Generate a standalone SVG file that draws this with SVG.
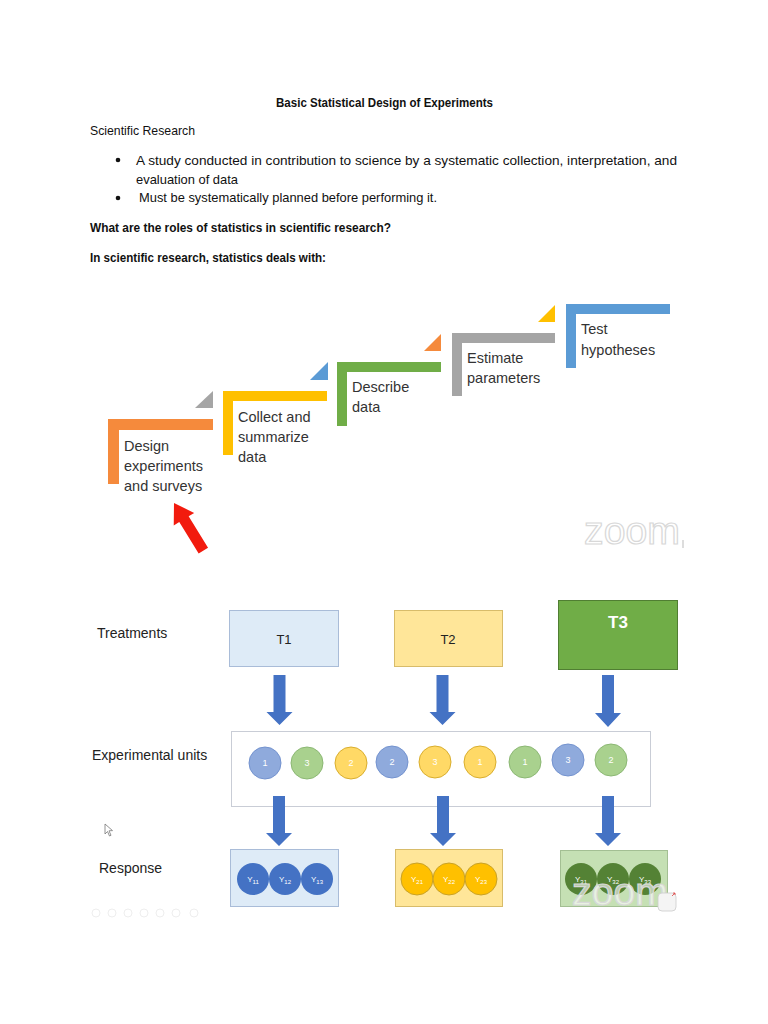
<svg xmlns="http://www.w3.org/2000/svg" width="768" height="1024" viewBox="0 0 768 1024">
<style>
.doc{font-family:"Liberation Sans",Arial,sans-serif;font-size:13.5px;fill:#111}
.b{font-weight:bold}
.lbl{font-family:"Liberation Sans",Arial,sans-serif;font-size:14.5px;fill:#333}
.tl{font-family:"Liberation Sans",Arial,sans-serif;font-size:14px;fill:#222}
.u{font-family:"Liberation Sans",Arial,sans-serif;font-size:9px;fill:#fff;text-anchor:middle}
.y{font-family:"Liberation Sans",Arial,sans-serif;font-size:8px;fill:#fff;text-anchor:middle}
.arr{fill:#4472C4}
.ub{fill:#8FAADC;stroke:#7493CF;stroke-width:1}
.ug{fill:#A9D18E;stroke:#8CB874;stroke-width:1}
.uy{fill:#FFD966;stroke:#D9AE2E;stroke-width:1}
.wm{font-family:"Liberation Sans",Arial,sans-serif;font-size:38px;fill:#ffffff;fill-opacity:0.6;stroke:#d8d8d8;stroke-width:1.2}
</style>
<rect width="768" height="1024" fill="#ffffff"/>

<g id="document-text">
<text class="doc b" x="276" y="107" textLength="217" lengthAdjust="spacingAndGlyphs">Basic Statistical Design of Experiments</text>
<text class="doc" x="90" y="135" textLength="105" lengthAdjust="spacingAndGlyphs">Scientific Research</text>
<circle cx="118" cy="160" r="2.3" fill="#111"/>
<text class="doc" x="136" y="165" textLength="541" lengthAdjust="spacingAndGlyphs">A study conducted in contribution to science by a systematic collection, interpretation, and</text>
<text class="doc" x="136" y="184" textLength="102" lengthAdjust="spacingAndGlyphs">evaluation of data</text>
<circle cx="118" cy="198" r="2.3" fill="#111"/>
<text class="doc" x="139" y="202" textLength="298" lengthAdjust="spacingAndGlyphs">Must be systematically planned before performing it.</text>
<text class="doc b" x="90" y="232" textLength="301" lengthAdjust="spacingAndGlyphs">What are the roles of statistics in scientific research?</text>
<text class="doc b" x="90" y="262" textLength="236" lengthAdjust="spacingAndGlyphs">In scientific research, statistics deals with:</text>
</g>

<g id="step-design">
<path d="M108 419H213V430H119V484H108Z" fill="#F58A3C"/>
<polygon points="195,408 213,408 213,391" fill="#A5A5A5"/>
<text class="lbl" x="124" y="451">Design</text>
<text class="lbl" x="124" y="471">experiments</text>
<text class="lbl" x="124" y="491">and surveys</text>
</g>
<g id="step-collect">
<path d="M223 391H327V401H233V455H223Z" fill="#FFC000"/>
<polygon points="310,380 328,380 328,362" fill="#5B9BD5"/>
<text class="lbl" x="238" y="422">Collect and</text>
<text class="lbl" x="238" y="442">summarize</text>
<text class="lbl" x="238" y="462">data</text>
</g>
<g id="step-describe">
<path d="M337 362H441V372H347V426H337Z" fill="#70AD47"/>
<polygon points="424,351 441,351 441,334" fill="#F58A3C"/>
<text class="lbl" x="352" y="392">Describe</text>
<text class="lbl" x="352" y="412">data</text>
</g>
<g id="step-estimate">
<path d="M452 333H555V343H462V396H452Z" fill="#A5A5A5"/>
<polygon points="538,322 555,322 555,305" fill="#FFC000"/>
<text class="lbl" x="467" y="363">Estimate</text>
<text class="lbl" x="467" y="383">parameters</text>
</g>
<g id="step-test">
<path d="M566 304H670V314H576V368H566Z" fill="#5B9BD5"/>
<text class="lbl" x="581" y="334">Test</text>
<text class="lbl" x="581" y="355">hypotheses</text>
</g>
<g id="red-arrow">
<polygon transform="translate(174,503) rotate(-31.6)" points="0,0 12,19 5.5,19 5.5,56 -5.5,56 -5.5,19 -12,19" fill="#F21B0E"/>
</g>
<g id="zoom-watermark-1">
<text class="wm" x="584" y="544" textLength="96" lengthAdjust="spacingAndGlyphs">zoom</text>
<line x1="683" y1="540" x2="683" y2="548" stroke="#bbbbbb" stroke-width="1"/>
</g>

<g id="row-labels">
<text class="tl" x="97" y="638">Treatments</text>
<text class="tl" x="92" y="760">Experimental units</text>
<text class="tl" x="99" y="873">Response</text>
</g>

<g id="treatment-T1">
<rect x="229.5" y="610.5" width="109" height="56" fill="#DEEBF7" stroke="#A9BCD8"/>
<text x="284" y="644" font-family="Liberation Sans, Arial, sans-serif" font-size="13" fill="#222" text-anchor="middle">T1</text>
</g>
<g id="treatment-T2">
<rect x="394.5" y="610.5" width="108" height="56" fill="#FFE699" stroke="#D8BC6A"/>
<text x="448" y="644" font-family="Liberation Sans, Arial, sans-serif" font-size="13" fill="#222" text-anchor="middle">T2</text>
</g>
<g id="treatment-T3">
<rect x="558.5" y="600.5" width="119" height="69" fill="#70AD47" stroke="#507E32"/>
<text x="618" y="628" font-family="Liberation Sans, Arial, sans-serif" font-size="17" font-weight="bold" fill="#ffffff" text-anchor="middle">T3</text>
</g>

<g id="experimental-units">
<rect x="231.5" y="731.5" width="419" height="75" fill="#ffffff" stroke="#C9CDD6"/>
<circle class="ub" cx="265" cy="763" r="16"/><text class="u" x="265" y="766">1</text>
<circle class="ug" cx="307" cy="763" r="16"/><text class="u" x="307" y="766">3</text>
<circle class="uy" cx="351" cy="763" r="16"/><text class="u" x="351" y="766">2</text>
<circle class="ub" cx="392" cy="762" r="16"/><text class="u" x="392" y="765">2</text>
<circle class="uy" cx="435" cy="762" r="16"/><text class="u" x="435" y="765">3</text>
<circle class="uy" cx="480" cy="762" r="16"/><text class="u" x="480" y="765">1</text>
<circle class="ug" cx="525" cy="762" r="16"/><text class="u" x="525" y="765">1</text>
<circle class="ub" cx="568" cy="760" r="16"/><text class="u" x="568" y="763">3</text>
<circle class="ug" cx="611" cy="760" r="16"/><text class="u" x="611" y="763">2</text>
</g>

<g id="response-R1">
<rect x="230.5" y="849.5" width="108" height="57" fill="#DEEBF7" stroke="#A9BCD8"/>
<circle cx="253" cy="879" r="16" fill="#4472C4"/>
<circle cx="285" cy="879" r="16" fill="#4472C4"/>
<circle cx="317" cy="879" r="16" fill="#4472C4"/>
<text class="y" x="253" y="882">Y<tspan font-size="6" dy="1.5">11</tspan></text>
<text class="y" x="285" y="882">Y<tspan font-size="6" dy="1.5">12</tspan></text>
<text class="y" x="317" y="882">Y<tspan font-size="6" dy="1.5">13</tspan></text>
</g>
<g id="response-R2">
<rect x="395.5" y="849.5" width="107" height="57" fill="#FFE699" stroke="#D8BC6A"/>
<circle cx="417" cy="879" r="16" fill="#FFC000" stroke="#C9A227"/>
<circle cx="449" cy="879" r="16" fill="#FFC000" stroke="#C9A227"/>
<circle cx="481" cy="879" r="16" fill="#FFC000" stroke="#C9A227"/>
<text class="y" x="417" y="882">Y<tspan font-size="6" dy="1.5">21</tspan></text>
<text class="y" x="449" y="882">Y<tspan font-size="6" dy="1.5">22</tspan></text>
<text class="y" x="481" y="882">Y<tspan font-size="6" dy="1.5">23</tspan></text>
</g>
<g id="response-R3">
<rect x="560.5" y="850.5" width="107" height="56" fill="#C5E0B4" stroke="#A3BF93"/>
<circle cx="581" cy="879" r="16" fill="#548235"/>
<circle cx="613" cy="879" r="16" fill="#548235"/>
<circle cx="645" cy="879" r="16" fill="#548235"/>
<text class="y" x="581" y="882">Y<tspan font-size="6" dy="1.5">31</tspan></text>
<text class="y" x="613" y="882">Y<tspan font-size="6" dy="1.5">32</tspan></text>
<text class="y" x="645" y="882">Y<tspan font-size="6" dy="1.5">33</tspan></text>
</g>

<g id="connectors">
<path class="arr" d="M273.5 675H285.5V712H292.5L279.5 725L266.5 712H273.5Z"/>
<path class="arr" d="M436.5 675H448.5V712H455.5L442.5 725L429.5 712H436.5Z"/>
<path class="arr" d="M602 675H614V713H621L608 727L595 713H602Z"/>
<path class="arr" d="M273 796H285V833H292L279 846L266 833H273Z"/>
<path class="arr" d="M437 796H449V833H456L443 846L430 833H437Z"/>
<path class="arr" d="M602 796H614V833H621L608 846L595 833H602Z"/>
</g>

<g id="zoom-watermark-2">
<text class="wm" x="572" y="905" textLength="96" lengthAdjust="spacingAndGlyphs">zoom</text>
<rect x="658" y="893" width="18" height="18" rx="4" fill="#f4f4f4" stroke="#cccccc" stroke-width="0.8"/>
<path d="M672 896l3 -3M673 893h2v2" stroke="#e04040" stroke-width="0.8" fill="none"/>
</g>
<g id="cursor">
<path d="M105 824L105 834L107.5 831.5L109.5 836L111 835.3L109 830.8L112.5 830.6Z" fill="#ffffff" stroke="#777" stroke-width="0.8"/>
</g>
<g id="toolbar-faint" fill="none" stroke="#eeeeee" stroke-width="1">
<circle cx="96" cy="913" r="4"/><circle cx="112" cy="913" r="4"/><circle cx="128" cy="913" r="4"/><circle cx="144" cy="913" r="4"/><circle cx="160" cy="913" r="4"/><circle cx="176" cy="913" r="4"/><circle cx="194" cy="913" r="4"/>
</g>
</svg>
